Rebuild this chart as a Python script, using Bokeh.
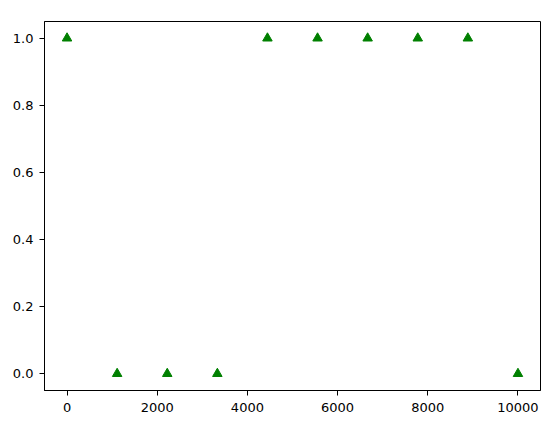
from bokeh.plotting import figure
from bokeh.models import Range1d, FixedTicker, CustomJSTickFormatter
from bokeh.embed import file_html
from bokeh.resources import INLINE

x_values = [0, 1111.1, 2222.2, 3333.3, 4444.4, 5555.6, 6666.7, 7777.8, 8888.9, 10000]
y_values = [1, 0, 0, 0, 1, 1, 1, 1, 1, 0]
x_ticks = [0, 2000, 4000, 6000, 8000, 10000]
y_ticks = [0.0, 0.2, 0.4, 0.6, 0.8, 1.0]

p = figure(width=556, height=429, output_backend="svg", toolbar_location=None,
           x_range=Range1d(-500, 10500), y_range=Range1d(-0.05, 1.05),
           min_border_left=44, min_border_right=16, min_border_top=21, min_border_bottom=39)
p.triangle(x_values, y_values, size=9.5, color="#008000")

p.xgrid.visible = False
p.ygrid.visible = False
p.outline_line_color = "black"
p.outline_line_width = 1
p.xaxis.ticker = FixedTicker(ticks=x_ticks)
p.yaxis.ticker = FixedTicker(ticks=y_ticks)
p.yaxis.formatter = CustomJSTickFormatter(code="return tick.toFixed(1);")
for ax in (p.xaxis, p.yaxis):
    ax.major_label_text_font = "DejaVu Sans"
    ax.major_label_text_font_size = "13px"
    ax.major_label_text_color = "black"
    ax.major_tick_out = 5
    ax.major_tick_in = 0
    ax.minor_tick_line_color = None
    ax.axis_line_color = "black"
    ax.major_tick_line_color = "black"
p.xaxis.major_label_standoff = 7
p.yaxis.major_label_standoff = 6

open("out.html", "w").write(file_html(p, INLINE))
